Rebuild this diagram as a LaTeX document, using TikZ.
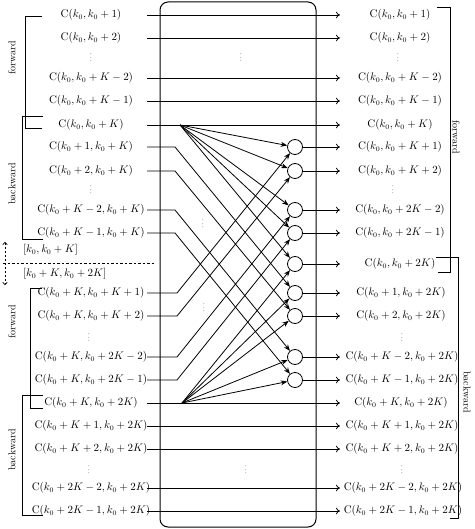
\documentclass[tikz,border=0pt]{standalone}
\usetikzlibrary{arrows.meta}
\begin{document}
\begin{tikzpicture}[x=1pt,y=-1pt,
  lab/.style={font=\fontsize{10.5}{12}\selectfont, inner sep=0pt},
  side/.style={font=\fontsize{10}{12}\selectfont, inner sep=0pt},
  flow/.style={line width=0.8pt},
  outarrow/.style={flow,-{To[length=4pt,width=6.5pt,line width=0.8pt]}},
  fanarrow/.style={flow,-{Stealth[length=6.5pt,width=5pt]}},
  merge/.style={circle,draw,line width=0.8pt,minimum size=15pt,inner sep=0pt},
  brack/.style={line width=0.8pt},
  vdotsnode/.style={font=\fontsize{7}{8}\selectfont, inner sep=0pt, rotate=90}]
\useasboundingbox (0,0) rectangle (474,529);
\fill[white] (0,0) rectangle (474,529);

% main box
\node[draw, line width=1pt, rounded corners=8pt, minimum width=156pt, minimum height=525pt, inner sep=0pt] (box) at (238,264.5) {};

% row coordinates
\foreach \n/\y in {1/15,2/38,4/78,5/101,6/125,7/147,8/171,10/210,11/233,12/264,13/293,14/316,16/357,17/380,18/403,19/426,20/449,22/488,23/511}{
  \coordinate (L\n) at (147,\y);
  \coordinate (R\n) at (340,\y);
}

% left labels
\node[lab] (l1)  at (91,15)  {$\mathrm{C}(k_0,k_0+1)$};
\node[lab] (l2)  at (91,38)  {$\mathrm{C}(k_0,k_0+2)$};
\node[vdotsnode] (ld1) at (91,58) {$\ldots$};
\node[lab] (l4)  at (91,78)  {$\mathrm{C}(k_0,k_0+K-2)$};
\node[lab] (l5)  at (91,101) {$\mathrm{C}(k_0,k_0+K-1)$};
\node[lab] (l6)  at (91,125) {$\mathrm{C}(k_0,k_0+K)$};
\node[lab] (l7)  at (91,147) {$\mathrm{C}(k_0+1,k_0+K)$};
\node[lab] (l8)  at (91,171) {$\mathrm{C}(k_0+2,k_0+K)$};
\node[vdotsnode] (ld2) at (91,190) {$\ldots$};
\node[lab] (l10) at (91,210) {$\mathrm{C}(k_0+K-2,k_0+K)$};
\node[lab] (l11) at (91,233) {$\mathrm{C}(k_0+K-1,k_0+K)$};
\node[lab] (l13) at (91,293) {$\mathrm{C}(k_0+K,k_0+K+1)$};
\node[lab] (l14) at (91,316) {$\mathrm{C}(k_0+K,k_0+K+2)$};
\node[vdotsnode] (ld3) at (89,338) {$\ldots$};
\node[lab] (l16) at (91,357) {$\mathrm{C}(k_0+K,k_0+2K-2)$};
\node[lab] (l17) at (91,380) {$\mathrm{C}(k_0+K,k_0+2K-1)$};
\node[lab] (l18) at (91,403) {$\mathrm{C}(k_0+K,k_0+2K)$};
\node[lab] (l19) at (91,426) {$\mathrm{C}(k_0+K+1,k_0+2K)$};
\node[lab] (l20) at (91,449) {$\mathrm{C}(k_0+K+2,k_0+2K)$};
\node[vdotsnode] (ld4) at (89,470) {$\ldots$};
\node[lab] (l22) at (91,488) {$\mathrm{C}(k_0+2K-2,k_0+2K)$};
\node[lab] (l23) at (91,511) {$\mathrm{C}(k_0+2K-1,k_0+2K)$};

% right labels
\node[lab] (r1)  at (400,15)  {$\mathrm{C}(k_0,k_0+1)$};
\node[lab] (r2)  at (400,38)  {$\mathrm{C}(k_0,k_0+2)$};
\node[vdotsnode] (rd1) at (398,58) {$\ldots$};
\node[lab] (r4)  at (400,78)  {$\mathrm{C}(k_0,k_0+K-2)$};
\node[lab] (r5)  at (400,101) {$\mathrm{C}(k_0,k_0+K-1)$};
\node[lab] (r6)  at (400,125) {$\mathrm{C}(k_0,k_0+K)$};
\node[lab] (r7)  at (400,147) {$\mathrm{C}(k_0,k_0+K+1)$};
\node[lab] (r8)  at (400,171) {$\mathrm{C}(k_0,k_0+K+2)$};
\node[vdotsnode] (rd2) at (393,190) {$\ldots$};
\node[lab] (r10) at (400,210) {$\mathrm{C}(k_0,k_0+2K-2)$};
\node[lab] (r11) at (400,233) {$\mathrm{C}(k_0,k_0+2K-1)$};
\node[lab] (r12) at (400,264) {$\mathrm{C}(k_0,k_0+2K)$};
\node[lab] (r13) at (401,293) {$\mathrm{C}(k_0+1,k_0+2K)$};
\node[lab] (r14) at (401,316) {$\mathrm{C}(k_0+2,k_0+2K)$};
\node[vdotsnode] (rd3) at (402,338) {$\ldots$};
\node[lab] (r16) at (402,357) {$\mathrm{C}(k_0+K-2,k_0+2K)$};
\node[lab] (r17) at (402,380) {$\mathrm{C}(k_0+K-1,k_0+2K)$};
\node[lab] (r18) at (401,403) {$\mathrm{C}(k_0+K,k_0+2K)$};
\node[lab] (r19) at (402,426) {$\mathrm{C}(k_0+K+1,k_0+2K)$};
\node[lab] (r20) at (402,449) {$\mathrm{C}(k_0+K+2,k_0+2K)$};
\node[vdotsnode] (rd4) at (402,470) {$\ldots$};
\node[lab] (r22) at (403,488) {$\mathrm{C}(k_0+2K-2,k_0+2K)$};
\node[lab] (r23) at (403,511) {$\mathrm{C}(k_0+2K-1,k_0+2K)$};

% dots inside the box
\node[vdotsnode] (bd1) at (241,58) {$\ldots$};
\node[vdotsnode] (bd2) at (203,224) {$\ldots$};
\node[vdotsnode] (bd3) at (204,308) {$\ldots$};
\node[vdotsnode] (bd4) at (246,470) {$\ldots$};

% straight rows
\foreach \n in {1,2,4,5,6,18,19,20,22,23}{
  \draw[outarrow] (L\n) -- (R\n);
}

% merge circles
\foreach \n in {7,8,10,11,12,13,14,16,17}{
  \node[merge] (c\n) at (295,0 |- R\n) {};
  \draw[outarrow] (c\n) -- (R\n);
}

% fan points
\coordinate (A) at (180,125);
\coordinate (B) at (182,403);
\foreach \n in {7,8,10,11,12}{
  \draw[fanarrow] (A) -- (c\n);
}
\foreach \n in {12,13,14,16,17}{
  \draw[fanarrow] (B) -- (c\n);
}

% crossing diagonals
\foreach \a/\b in {7/13,8/14,10/16,11/17}{
  \draw[fanarrow] (L\a) -- (175,0 |- L\a) -- (c\b);
}
\foreach \a/\b in {13/7,14/8,16/10,17/11}{
  \draw[fanarrow] (L\a) -- (177,0 |- L\a) -- (c\b);
}

% brackets left
\draw[brack] (42,16) -- (25,16) -- (25,128) -- (42,128);
\draw[brack] (43,116) -- (22,116) -- (22,239) -- (43,239);
\draw[brack] (42,288) -- (30,288) -- (30,408) -- (43,408);
\draw[brack] (43,395) -- (22,395) -- (22,515) -- (43,515);
\node[side, rotate=90] (fw1) at (12,58) {forward};
\node[side, rotate=90] (bw1) at (12,184) {backward};
\node[side, rotate=90] (fw2) at (12,322) {forward};
\node[side, rotate=90] (bw2) at (12,450) {backward};

% brackets right
\draw[brack] (437,7) -- (450,7) -- (450,272) -- (438,272);
\draw[brack] (436,257) -- (458,257) -- (458,518) -- (450,518);
\node[side, rotate=-90] (fw3) at (456,137) {forward};
\node[side, rotate=-90] (bw3) at (467,392) {backward};

% interval separation
\coordinate (d1) at (3,263);
\coordinate (d2) at (155,263);
\draw[line width=0.7pt, dash pattern=on 2.5pt off 2pt] (d1) -- (d2);
\coordinate (u1) at (5,242);
\coordinate (u2) at (5,285);
\draw[line width=0.7pt, dash pattern=on 2pt off 2pt, {To[length=3pt,width=5pt]}-{To[length=3pt,width=5pt]}] (u1) -- (u2);
\node[lab, anchor=west] (i1) at (23,250) {$[k_0,k_0+K]$};
\node[lab, anchor=west] (i2) at (23,274) {$[k_0+K,k_0+2K]$};
\end{tikzpicture}
\end{document}
